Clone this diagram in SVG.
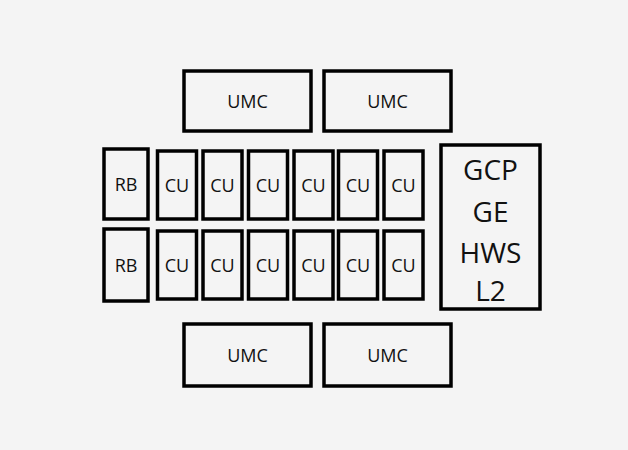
<svg xmlns="http://www.w3.org/2000/svg" width="628" height="450" viewBox="0 0 628 450">
<style>
.b{fill:#f4f4f4;stroke:#000;stroke-width:3.5}
.t{font-family:"Open Sans","Liberation Sans",sans-serif;font-size:18px;fill:#111;text-anchor:middle;dominant-baseline:central}
.g{font-family:"Open Sans","Liberation Sans",sans-serif;font-size:28px;fill:#111;text-anchor:middle;dominant-baseline:central}
</style>
<rect width="628" height="450" fill="#f4f4f4"/>
<g id="umc1"><rect class="b" x="184" y="71" width="127" height="60"/><text class="t" x="247.5" y="101">UMC</text></g>
<g id="umc2"><rect class="b" x="324" y="71" width="127" height="60"/><text class="t" x="387.5" y="101">UMC</text></g>
<g id="umc3"><rect class="b" x="184" y="324" width="127" height="62"/><text class="t" x="247.5" y="355">UMC</text></g>
<g id="umc4"><rect class="b" x="324" y="324" width="127" height="62"/><text class="t" x="387.5" y="355">UMC</text></g>
<g id="rb1"><rect class="b" x="104" y="149" width="44" height="70"/><text class="t" x="126" y="184">RB</text></g>
<g id="rb2"><rect class="b" x="104" y="229" width="44" height="72"/><text class="t" x="126" y="265">RB</text></g>
<g id="cu1a"><rect class="b" x="157.5" y="151" width="39" height="68"/><text class="t" x="177" y="185">CU</text></g>
<g id="cu2a"><rect class="b" x="203" y="151" width="39" height="68"/><text class="t" x="222.5" y="185">CU</text></g>
<g id="cu3a"><rect class="b" x="248.5" y="151" width="39" height="68"/><text class="t" x="268" y="185">CU</text></g>
<g id="cu4a"><rect class="b" x="294" y="151" width="39" height="68"/><text class="t" x="313.5" y="185">CU</text></g>
<g id="cu5a"><rect class="b" x="338.5" y="151" width="39" height="68"/><text class="t" x="358" y="185">CU</text></g>
<g id="cu6a"><rect class="b" x="384" y="151" width="39" height="68"/><text class="t" x="403.5" y="185">CU</text></g>
<g id="cu1b"><rect class="b" x="157.5" y="231" width="39" height="68"/><text class="t" x="177" y="265">CU</text></g>
<g id="cu2b"><rect class="b" x="203" y="231" width="39" height="68"/><text class="t" x="222.5" y="265">CU</text></g>
<g id="cu3b"><rect class="b" x="248.5" y="231" width="39" height="68"/><text class="t" x="268" y="265">CU</text></g>
<g id="cu4b"><rect class="b" x="294" y="231" width="39" height="68"/><text class="t" x="313.5" y="265">CU</text></g>
<g id="cu5b"><rect class="b" x="338.5" y="231" width="39" height="68"/><text class="t" x="358" y="265">CU</text></g>
<g id="cu6b"><rect class="b" x="384" y="231" width="39" height="68"/><text class="t" x="403.5" y="265">CU</text></g>
<g id="gcp"><rect class="b" x="441" y="145" width="99" height="164"/>
<text class="g" x="490.5" y="169">GCP</text>
<text class="g" x="490.5" y="211">GE</text>
<text class="g" x="490.5" y="252">HWS</text>
<text class="g" x="490.5" y="290">L2</text></g>
<g id="connectors"/>
</svg>
